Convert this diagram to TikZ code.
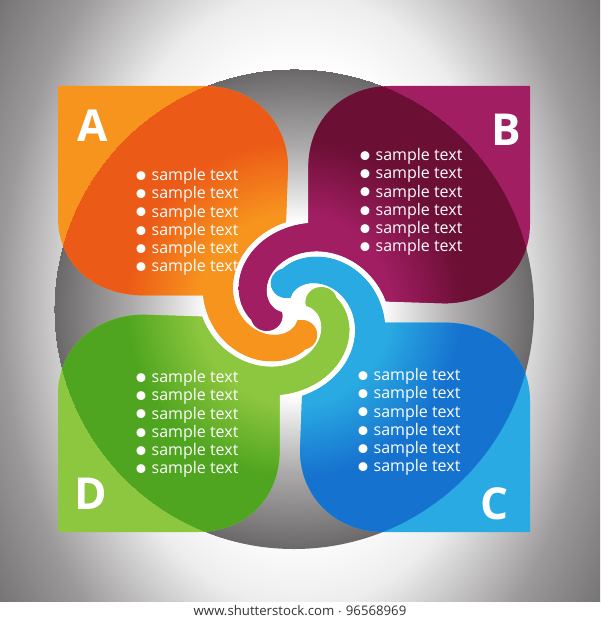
\documentclass[tikz,border=0pt]{standalone}
\usepackage{fontspec}
\setmainfont{Open Sans}
\usepackage{tikz}
\usepackage{xcolor}

\definecolor{orangeL}{HTML}{F7941E}
\definecolor{orangeD}{HTML}{EC5A17}
\definecolor{plumL}{HTML}{A11E63}
\definecolor{plumD}{HTML}{6C0F35}
\definecolor{blueL}{HTML}{29AAE2}
\definecolor{blueD}{HTML}{1672CF}
\definecolor{greenL}{HTML}{8DC63F}
\definecolor{greenD}{HTML}{4FA51F}
\definecolor{ringM}{HTML}{ABA9AA}
\definecolor{ringD}{HTML}{6B6869}
\definecolor{bgL}{HTML}{EDEDED}
\definecolor{bgM}{HTML}{9C999A}
\definecolor{bgD}{HTML}{747172}

% radial fills: light in the middle, dark on the rim (path edge = 25bp)
\pgfdeclareradialshading{bgshade}{\pgfpoint{0bp}{0bp}}{color(0bp)=(white); color(9bp)=(white); color(12bp)=(bgL); color(17bp)=(bgM); color(21bp)=(bgD); color(25bp)=(bgD)}
\pgfdeclareradialshading{ringshade}{\pgfpoint{0bp}{0bp}}{color(0bp)=(white); color(9bp)=(white); color(17bp)=(ringM); color(25bp)=(ringD)}
\pgfdeclareradialshading{orangeshade}{\pgfpoint{0bp}{0bp}}{color(0bp)=(orangeL); color(10bp)=(orangeL); color(17.5bp)=(orangeD); color(25bp)=(orangeD)}
\pgfdeclareradialshading{plumshade}{\pgfpoint{0bp}{0bp}}{color(0bp)=(plumL); color(10bp)=(plumL); color(17.5bp)=(plumD); color(25bp)=(plumD)}
\pgfdeclareradialshading{blueshade}{\pgfpoint{0bp}{0bp}}{color(0bp)=(blueL); color(10bp)=(blueL); color(17.5bp)=(blueD); color(25bp)=(blueD)}
\pgfdeclareradialshading{greenshade}{\pgfpoint{0bp}{0bp}}{color(0bp)=(greenL); color(10bp)=(greenL); color(17.5bp)=(greenD); color(25bp)=(greenD)}

\tikzstyle{itemtext}=[anchor=west, align=left, text=white, inner sep=0pt, font=\fontsize{8}{9.1}\selectfont]
\tikzstyle{letter}=[text=white, inner sep=0pt, font=\fontsize{22}{22}\selectfont\bfseries]

% one petal (top-left one), around the centre: corner box, blob and spiral tail
\newcommand{\petal}{(-236,-236) -- (-90,-236) .. controls (-40,-236) and (-6,-197) .. (-6,-150)
  -- (265:92.4) -- plot[domain=265:75, samples=60] (\x:{1.05*(0.4*\x-18)})
  -- plot[domain=255:435, samples=24] ({7.34+15.75*cos(\x)},{27.38+15.75*sin(\x)})
  -- plot[domain=75:189, samples=40] (\x:{1.05*(12+0.4*\x)})
  -- (-150,-14.39) .. controls (-200,-14.39) and (-236,-48) .. (-236,-97) -- cycle}
\newcommand{\sitem}{\raisebox{-.1ex}{\scalebox{1.35}{$\bullet$}}\hspace{.3em}sample text}

\begin{document}
\begin{tikzpicture}[x=0.5pt, y=-0.5pt]
        \useasboundingbox (0,0) rectangle (600,620);
        \coordinate (O) at (294,309);

        % background
        \begin{scope}
            \clip (0,0) rectangle (600,602);
            \shade[shading=bgshade] (300,300) ellipse [x radius=440, y radius=640];
        \end{scope}
        \fill[white] (0,602) rectangle (600,620);

        % grey ring
        \shade[shading=ringshade] (O) circle (240);

        % the four petals
        \foreach \ang/\col in {0/orange, 90/green, 180/blue, 270/plum} {
            \fill[\col L, shift={(O)}, yscale=.945, rotate=\ang] \petal;
            \begin{scope}
                \clip[shift={(O)}, yscale=.945, rotate=\ang] \petal;
                \shade[shading=\col shade] (O) circle (240);
            \end{scope}
        }

        % letters
        \node (labA) at (93,126) [letter] {A};
        \node (labB) at (506,130) [letter] {B};
        \node (labC) at (495,504) [letter] {C};
        \node (labD) at (91,494) [letter] {D};

        % bullet lists
        \node (textA) at (135,222) [itemtext] {\sitem\\\sitem\\\sitem\\\sitem\\\sitem\\\sitem};
        \node (textB) at (359,202) [itemtext] {\sitem\\\sitem\\\sitem\\\sitem\\\sitem\\\sitem};
        \node (textC) at (357,422) [itemtext] {\sitem\\\sitem\\\sitem\\\sitem\\\sitem\\\sitem};
        \node (textD) at (135,424) [itemtext] {\sitem\\\sitem\\\sitem\\\sitem\\\sitem\\\sitem};

        \node (footer) at (300,611) [text=black!80, inner sep=0pt, font=\fontsize{6.6}{7}\selectfont] {www.shutterstock.com $\cdot$ 96568969};
\end{tikzpicture}
\end{document}
